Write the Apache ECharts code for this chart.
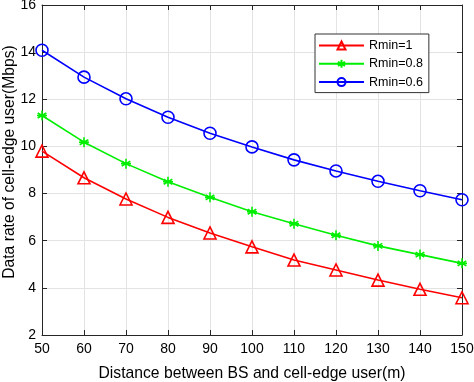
<!DOCTYPE html>
<html>
<head>
<meta charset="utf-8">
<script src="https://cdn.jsdelivr.net/npm/echarts@6/dist/echarts.min.js"></script>
<style>html,body{margin:0;padding:0;background:#fff;}#c{width:474px;height:382px;}</style>
</head>
<body>
<div id="c"></div>
<script>
var distances = [50, 60, 70, 80, 90, 100, 110, 120, 130, 140, 150];
var rmin1 = [9.8, 8.67, 7.77, 6.99, 6.33, 5.74, 5.18, 4.76, 4.33, 3.94, 3.58];
var rmin08 = [11.31, 10.18, 9.27, 8.5, 7.84, 7.23, 6.72, 6.23, 5.78, 5.41, 5.04];
var rmin06 = [14.08, 12.94, 12.02, 11.24, 10.56, 9.98, 9.43, 8.96, 8.52, 8.12, 7.74];
var seriesNames = ['Rmin=1', 'Rmin=0.8', 'Rmin=0.6'];
var xName = 'Distance between BS and cell-edge user(m)';
var yName = 'Data rate of cell-edge user(Mbps)';

var font = 'Liberation Sans, Arial, Helvetica, sans-serif';
var axisColor = '#262626';
function pairs(v){ return distances.map(function(d,i){ return [d, v[i]]; }); }
var asterisk = 'path://M0,-5L0,5M-4.33,-2.5L4.33,2.5M-4.33,2.5L4.33,-2.5M-5,0L5,0';

var chart = echarts.init(document.getElementById('c'), null, {renderer:'canvas'});
function mkSeries(name, data, color, symbol, size){
  return {
    name: name, type: 'line', data: pairs(data),
    symbol: symbol, symbolSize: size, showAllSymbol: true,
    lineStyle: {color: color, width: 1.6},
    itemStyle: {color: 'rgba(255,255,255,0)', borderColor: color, borderWidth: 1.6},
    emphasis: {disabled: true}, animation: false, z: 3
  };
}
var option = {
  animation: false,
  grid: {left: 42, right: 12, top: 5, bottom: 47, containLabel: false, outerBoundsMode: 'none'},
  legend: {
    data: seriesNames, orient: 'vertical', left: 315, top: 34,
    itemWidth: 45, itemHeight: 10, itemGap: 4.3,
    padding: [4.5, 6, 3.5, 3],
    borderColor: '#333', borderWidth: 1, backgroundColor: '#fff',
    textStyle: {fontFamily: font, fontSize: 12.5, lineHeight: 14, color: '#000'}
  },
  graphic: [{
    type: 'text', x: 10, y: 162, rotation: Math.PI / 2, silent: true,
    style: {text: yName, font: '15.7px ' + font, fill: '#000', align: 'center', verticalAlign: 'middle'}
  }],
  xAxis: [{
    type: 'value', min: 50, max: 150, interval: 10,
    name: xName, nameLocation: 'middle', nameGap: 31, nameMoveOverlap: false,
    nameTextStyle: {fontFamily: font, fontSize: 15.7, color: '#000'},
    axisLine: {show: true, onZero: false, lineStyle: {color: axisColor, width: 1}},
    axisTick: {show: true, inside: true, length: 5, lineStyle: {color: axisColor}},
    axisLabel: {fontFamily: font, fontSize: 14, color: '#000', margin: 7},
    splitLine: {show: true, lineStyle: {color: '#e3e3e3', width: 1}}
  }, {
    type: 'value', min: 50, max: 150, interval: 10, position: 'top',
    axisLine: {show: true, onZero: false, lineStyle: {color: axisColor, width: 1}},
    axisTick: {show: true, inside: true, length: 5, lineStyle: {color: axisColor}},
    axisLabel: {show: false}, splitLine: {show: false}
  }],
  yAxis: [{
    type: 'value', min: 2, max: 16, interval: 2,
    axisLine: {show: true, onZero: false, lineStyle: {color: axisColor, width: 1}},
    axisTick: {show: true, inside: true, length: 5, lineStyle: {color: axisColor}},
    axisLabel: {fontFamily: font, fontSize: 14, color: '#000', margin: 6},
    splitLine: {show: true, lineStyle: {color: '#e3e3e3', width: 1}}
  }, {
    type: 'value', min: 2, max: 16, interval: 2, position: 'right',
    axisLine: {show: true, onZero: false, lineStyle: {color: axisColor, width: 1}},
    axisTick: {show: true, inside: true, length: 5, lineStyle: {color: axisColor}},
    axisLabel: {show: false}, splitLine: {show: false}
  }],
  series: [
    mkSeries(seriesNames[0], rmin1, '#ff0000', 'triangle', 12),
    mkSeries(seriesNames[1], rmin08, '#00ee00', asterisk, 10),
    mkSeries(seriesNames[2], rmin06, '#0000ff', 'circle', 12)
  ]
};
chart.setOption(option);
</script>
</body>
</html>
